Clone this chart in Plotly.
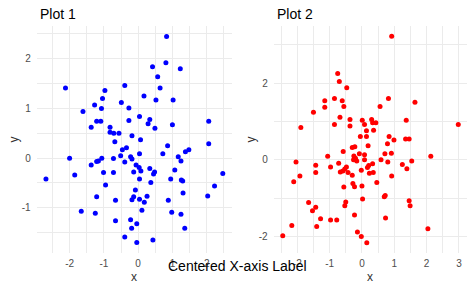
import plotly.graph_objects as go

# ---- data ----
x1 = [0.83, 0.81, 1.23, 0.42, 0.57, -2.12, -0.39, -0.97, 0.64, 0.17,
      -1.04, 0.52, 1.02, -1.27, -0.49, -1.61, -1.07, -0.27, 0.04, -1.21,
      -1.09, -0.27, 0.34, 0.29, 1.00, 2.06, -1.37, -0.82, 0.49, -0.82,
      -0.71, -0.56, -0.18, 0.07, -0.68, 2.06, 0.86, -0.34, -0.46, 1.48,
      1.38, 0.72, 0.04, -0.51, 1.17, -2.00, -1.06, -0.22, -0.72, -0.18,
      -1.16, -1.21, -0.39, 1.25, -1.37, -0.06, 0.03, 0.34, 0.08, 1.07,
      -1.85, -1.01, -0.72, -0.13, 0.48, 0.45, 2.47, -2.69, 0.04, 0.95,
      1.26, 1.30, -0.95, 0.37, 2.23, -0.08, 1.31, -1.21, 0.26, -0.13,
      2.03, -0.66, -0.18, 0.04, 0.18, 0.88, -1.66, -1.25, 0.11, 0.98,
      1.25, -0.66, -0.22, -0.04, -0.19, 1.36, -0.39, 0.43, -0.04]
y1 = [2.45, 1.92, 1.80, 1.84, 1.64, 1.41, 1.46, 1.36, 1.41, 1.25,
      1.20, 1.17, 1.17, 1.07, 1.12, 0.94, 1.00, 1.01, 0.84, 0.74,
      0.74, 0.76, 0.78, 0.69, 0.67, 0.74, 0.62, 0.62, 0.60, 0.52,
      0.50, 0.50, 0.45, 0.37, 0.33, 0.29, 0.25, 0.21, 0.17, 0.17,
      0.13, 0.09, 0.09, 0.05, 0.03, 0.00, 0.00, 0.03, -0.01, -0.02,
      -0.06, -0.07, -0.08, -0.06, -0.14, -0.14, -0.19, -0.21, -0.26, -0.24,
      -0.34, -0.29, -0.29, -0.28, -0.28, -0.32, -0.31, -0.42, -0.42, -0.42,
      -0.44, -0.46, -0.54, -0.49, -0.56, -0.64, -0.70, -0.78, -0.77, -0.78,
      -0.76, -0.85, -0.84, -0.83, -0.89, -0.85, -1.07, -1.11, -1.05, -1.09,
      -1.13, -1.26, -1.24, -1.32, -1.41, -1.41, -1.59, -1.65, -1.70]

x2 = [0.92, -0.75, -0.70, -0.47, 0.82, -0.85, -1.15, -0.61, 1.64, -1.15,
      -0.56, 0.56, -1.50, -0.68, -0.37, 0.01, 0.30, 0.33, 0.43, 1.37,
      2.98, -1.89, -0.85, -0.37, 0.08, 0.14, 0.36, -0.05, 0.14, 0.84,
      0.99, 1.35, 1.46, 0.19, 0.79, -0.30, -0.22, -0.58, -1.06, -0.08,
      0.08, 0.71, 0.91, 2.13, -0.25, -0.20, -0.26, -0.16, -2.04, -1.43,
      -0.72, -0.97, -0.48, -0.53, -0.59, -0.67, 0.08, 0.59, 0.80, 1.54,
      1.25, 1.39, 0.33, 0.21, 0.17, -0.02, -0.43, -0.30, 0.23, 0.35,
      -1.92, -1.43, -2.11, 0.92, 0.46, -0.28, -0.23, -0.56, 0.00, 0.02,
      0.69, 0.72, -1.65, -1.43, -1.53, -0.50, -0.53, 1.46, 1.49, -0.23,
      -1.28, -0.97, -0.78, 0.73, -2.17, -1.40, 2.04, -0.14, -0.02, -2.45,
      0.15]
y2 = [3.22, 2.25, 2.04, 1.88, 1.60, 1.60, 1.54, 1.54, 1.50, 1.37,
      1.39, 1.39, 1.24, 1.11, 1.05, 1.03, 1.05, 0.97, 0.97, 1.03,
      0.92, 0.84, 0.92, 0.88, 0.92, 0.76, 0.77, 0.61, 0.61, 0.61,
      0.52, 0.54, 0.54, 0.37, 0.42, 0.32, 0.34, 0.22, 0.09, 0.16,
      0.13, 0.16, 0.17, 0.09, 0.10, 0.04, 0.00, -0.03, -0.06, -0.14,
      -0.09, -0.19, -0.19, -0.24, -0.29, -0.32, 0.00, 0.00, -0.06, -0.03,
      -0.12, -0.23, -0.10, -0.15, -0.20, -0.27, -0.33, -0.40, -0.35, -0.33,
      -0.42, -0.33, -0.57, -0.42, -0.59, -0.62, -0.70, -0.71, -0.68, -1.02,
      -0.96, -0.93, -1.11, -1.24, -1.33, -1.10, -1.20, -1.07, -1.20, -1.44,
      -1.54, -1.57, -1.57, -1.52, -1.71, -1.74, -1.80, -1.88, -2.00, -1.98,
      -2.16]

titles = ["Plot 1", "Plot 2"]
x1_ticks = [-2, -1, 0, 1, 2]
y1_ticks = [-1, 0, 1, 2]
x2_ticks = [-2, -1, 0, 1, 2, 3]
y2_ticks = [-2, 0, 2]
center_label = "Centered X-axis Label"

W, H = 474, 289
FONT = "Liberation Sans, Arial, sans-serif"
GRID = "#ebebeb"
TICKC = "#4d4d4d"

fig = go.Figure()
fig.add_trace(go.Scatter(x=x1, y=y1, mode="markers", xaxis="x", yaxis="y",
                         marker=dict(color="blue", size=5), showlegend=False))
fig.add_trace(go.Scatter(x=x2, y=y2, mode="markers", xaxis="x2", yaxis="y2",
                         marker=dict(color="red", size=5), showlegend=False))

def ax(domain, rng, ticks, minor_dtick, anchor, standoff):
    return dict(domain=domain, range=rng, tickvals=ticks,
                ticktext=[str(t) for t in ticks],
                showgrid=True, gridcolor=GRID, gridwidth=1.1,
                zeroline=False, showline=False, ticks="",
                ticklabelstandoff=standoff,
                tickfont=dict(family=FONT, size=10, color=TICKC),
                minor=dict(showgrid=True, gridcolor=GRID, gridwidth=0.55,
                           dtick=minor_dtick, tick0=0),
                anchor=anchor)

ydom = [1 - 253 / H, 1 - 26 / H]
fig.update_layout(
    width=W, height=H,
    margin=dict(l=0, r=0, t=0, b=0),
    paper_bgcolor="white", plot_bgcolor="white",
    xaxis=ax([36.7 / W, 231.7 / W], [-2.96, 2.73], x1_ticks, 0.5, "y", 3),
    yaxis=ax(ydom, [-1.91, 2.66], y1_ticks, 0.5, "x", 5),
    xaxis2=ax([273.7 / W, 467 / W], [-2.73, 3.25], x2_ticks, 0.5, "y2", 3),
    yaxis2=ax(ydom, [-2.43, 3.49], y2_ticks, 1, "x2", 5),
)

ann = []
ann.append(dict(text=titles[0], x=38 / W, y=1 - 13.5 / H, xanchor="left", yanchor="middle"))
ann.append(dict(text=titles[1], x=274.7 / W, y=1 - 13.5 / H, xanchor="left", yanchor="middle"))
for a in ann:
    a.update(xref="paper", yref="paper", showarrow=False,
             font=dict(family=FONT, size=14, color="black"))
for xc in (134.2, 370.3):
    ann.append(dict(text="x", x=xc / W, y=1 - 276.5 / H, xref="paper", yref="paper",
                    showarrow=False, xanchor="center", yanchor="middle",
                    font=dict(family=FONT, size=12, color="#333333")))
for xc in (13, 250):
    ann.append(dict(text="y", x=xc / W, y=1 - 139.5 / H, xref="paper", yref="paper",
                    showarrow=False, xanchor="center", yanchor="middle", textangle=-90,
                    font=dict(family=FONT, size=12, color="#333333")))
ann.append(dict(text=center_label, x=0.5, y=1 - 266 / H, xref="paper", yref="paper",
                showarrow=False, xanchor="center", yanchor="middle",
                font=dict(family=FONT, size=14, color="black")))
fig.update_layout(annotations=ann)

fig.write_html("out.html")
